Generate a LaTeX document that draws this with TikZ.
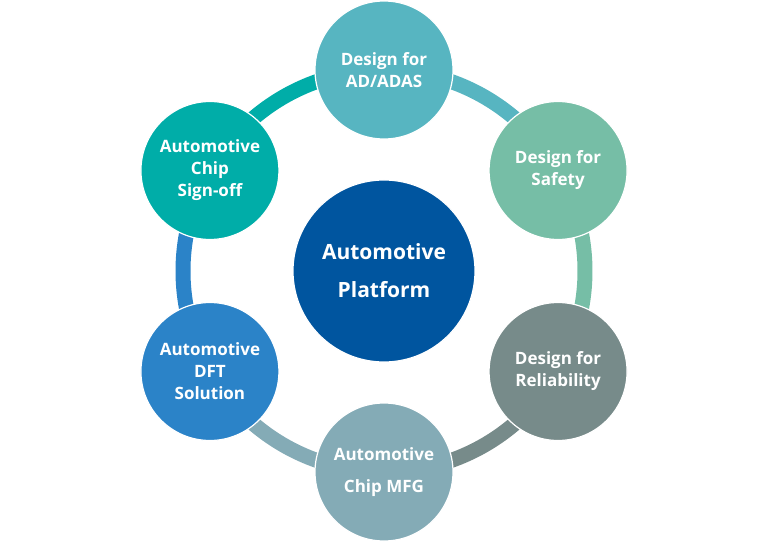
\documentclass[tikz,border=0pt]{standalone}
\usepackage{fontspec}
\setmainfont{Open Sans}
\usetikzlibrary{positioning}
\usetikzlibrary{backgrounds}
\definecolor{platform}{HTML}{00559F}
\definecolor{adas}{HTML}{57B5C1}
\definecolor{safety}{HTML}{76BEA6}
\definecolor{reliab}{HTML}{778B8A}
\definecolor{mfg}{HTML}{84ABB6}
\definecolor{dft}{HTML}{2B83C8}
\definecolor{signoff}{HTML}{00ADA8}
\tikzset{
    hubnode/.style = {circle, draw=white, line width=1.2pt, fill=platform, minimum size=182pt, inner sep=0pt, align=center, text=white, font=\bfseries\fontsize{21}{38}\selectfont},
    spokenode/.style = {circle, draw=white, line width=1.2pt, minimum size=138pt, inner sep=0pt, align=center, text=white, font=\bfseries\fontsize{17}{22}\selectfont},
    ringedge/.style = {line width=15pt},
}

\begin{document}
\begin{tikzpicture}[x=1pt,y=1pt]
  \useasboundingbox (-384,-272) rectangle (384,271);
  \node[hubnode] (hub) at (0,0) {Automotive\\Platform};
  \node[spokenode, fill=adas] (adas) at (90:201) {Design for\\AD/ADAS};
  \node[spokenode, fill=safety] (safety) at (30:201) {Design for\\Safety};
  \node[spokenode, fill=reliab] (reliab) at (-30:201) {Design for\\Reliability};
  \node[spokenode, fill=mfg, font=\bfseries\fontsize{17}{32}\selectfont] (mfg) at (-90:201) {Automotive\\Chip MFG};
  \node[spokenode, fill=dft] (dft) at (-150:201) {Automotive\\DFT\\Solution};
  \node[spokenode, fill=signoff] (signoff) at (150:201) {Automotive\\Chip\\Sign-off};
  % ring behind the circles
  \begin{scope}[on background layer]
    \draw[ringedge, adas] (adas.center) arc[start angle=90, end angle=30, radius=201];
    \draw[ringedge, safety] (safety.center) arc[start angle=30, end angle=-30, radius=201];
    \draw[ringedge, reliab] (reliab.center) arc[start angle=-30, end angle=-90, radius=201];
    \draw[ringedge, mfg] (mfg.center) arc[start angle=-90, end angle=-150, radius=201];
    \draw[ringedge, dft] (dft.center) arc[start angle=210, end angle=150, radius=201];
    \draw[ringedge, signoff] (signoff.center) arc[start angle=150, end angle=90, radius=201];
  \end{scope}
\end{tikzpicture}
\end{document}
